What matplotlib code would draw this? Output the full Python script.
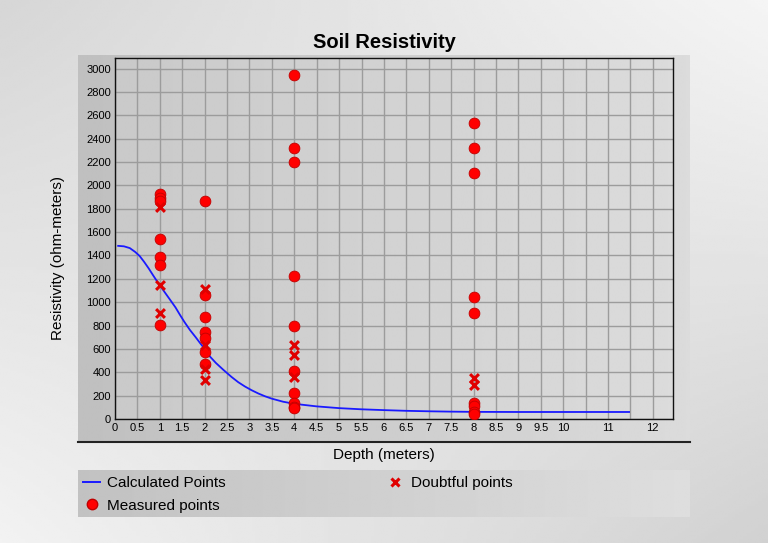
import numpy as np
import matplotlib
matplotlib.use('Agg')
import matplotlib.pyplot as plt
from matplotlib.lines import Line2D

plt.rcParams['font.family'] = ['Liberation Sans', 'DejaVu Sans']

# 计算曲线 (Calculated Points)
calc_depth = [0.07, 0.2, 0.33, 0.45, 0.55, 0.65, 0.75, 0.85, 0.97, 1.1,
              1.23, 1.35, 1.45, 1.55, 1.67, 1.8, 1.9, 2.0, 2.12, 2.25,
              2.42, 2.6, 2.75, 2.9, 3.05, 3.2, 3.35, 3.5, 3.75, 4.0,
              4.5, 5.0, 5.5, 6.0, 6.5, 7.0, 7.5, 8.0, 9.0, 10.0, 11.47]
calc_res = [1482, 1478, 1463, 1430, 1395, 1345, 1290, 1230, 1160, 1090,
            1020, 955, 891, 830, 763, 700, 649, 600, 534, 480,
            420, 360, 315, 278, 246, 218, 194, 174, 148, 130,
            108, 93, 83, 76, 70, 66, 63, 61, 60, 60, 60]

# 实测点 (Measured points)
meas_depth = [1] * 7 + [2] * 7 + [4] * 10 + [8] * 9
meas_res = [1930, 1895, 1865, 1540, 1390, 1320, 805,
            1870, 1060, 875, 745, 690, 570, 470,
            2945, 2320, 2200, 1225, 800, 415, 225, 140, 105, 90,
            2530, 2320, 2105, 1045, 905, 135, 115, 60, 40]

# 可疑点 (Doubtful points)
doubt_depth = [1] * 3 + [2] * 4 + [4] * 3 + [8] * 2
doubt_res = [1815, 1150, 905,
             1115, 630, 425, 330,
             630, 550, 360,
             355, 290]

x_ticks = [i * 0.5 for i in range(25)]
x_labels = ['0', '0.5', '1', '1.5', '2', '2.5', '3', '3.5', '4', '4.5', '5',
            '5.5', '6', '6.5', '7', '7.5', '8', '8.5', '9', '9.5', '10',
            '', '11', '', '12']
y_ticks = list(range(0, 3001, 200))

W, H = 768, 543
fig = plt.figure(figsize=(W / 100, H / 100), dpi=100)


def px_rect(x0, y0, x1, y1):
    return [x0 / W, 1 - y1 / H, (x1 - x0) / W, (y1 - y0) / H]


def gradient_axes(rect, left, right, z):
    a = fig.add_axes(rect, zorder=z)
    g = np.linspace(left, right, 256)[None, :]
    a.imshow(g, cmap='gray', vmin=0, vmax=1, aspect='auto',
             extent=[0, 1, 0, 1], interpolation='bilinear')
    a.set_axis_off()
    return a


# 背景渐变
bg = fig.add_axes([0, 0, 1, 1], zorder=-10)
u = np.linspace(0, 1, 200)
v = np.linspace(0, 1, 200)
U, V = np.meshgrid(u, v)
tl, tr, bl, br = 0.84, 0.96, 0.95, 0.82
img = tl * (1 - U) * (1 - V) + tr * U * (1 - V) + bl * (1 - U) * V + br * U * V
bg.imshow(img, cmap='gray', vmin=0, vmax=1, aspect='auto',
          extent=[0, 1, 0, 1], interpolation='bilinear')
bg.set_axis_off()

# 图表面板
panel = gradient_axes(px_rect(78, 55, 690, 442), 0.75, 0.86, -5)
panel.plot([0, 1], [0, 0], color='#222222', lw=1.5, transform=panel.transAxes,
           clip_on=False)

# 图例面板
legax = gradient_axes(px_rect(78, 470, 690, 517), 0.76, 0.87, -5)

ax = fig.add_axes(px_rect(115, 58, 673, 419), zorder=1)
ax.patch.set_alpha(0)
ax_bg = gradient_axes(px_rect(115, 58, 673, 419), 0.79, 0.86, 0)

ax.plot(calc_depth, calc_res, color='#1a1aff', lw=1.3, zorder=3)
ax.scatter(meas_depth, meas_res, s=60, color='#ff0000', edgecolors='#c00000',
           linewidths=0.6, zorder=4)
ax.scatter(doubt_depth, doubt_res, s=40, marker='x', color='#e00000',
           linewidths=2.2, zorder=5)

ax.set_xlim(0, 12.45)
ax.set_ylim(0, 3090)
ax.set_xticks(x_ticks)
ax.set_xticklabels(x_labels)
ax.set_yticks(y_ticks)
ax.tick_params(length=0, labelsize=8, pad=3)
ax.grid(True, color='#9c9c9c', lw=1)
ax.set_axisbelow(True)
for s in ax.spines.values():
    s.set_color('#111111')
    s.set_linewidth(1.0)

fig.text(384 / W, 1 - 42 / H, 'Soil Resistivity', ha='center', va='center',
         fontsize=14.5, fontweight='bold')
fig.text(58 / W, 1 - 258 / H, 'Resistivity (ohm-meters)', ha='center',
         va='center', rotation=90, fontsize=11)
fig.text(384 / W, 1 - 455 / H, 'Depth (meters)', ha='center', va='center',
         fontsize=11)

handles = [
    Line2D([], [], color='#1a1aff', lw=1.4),
    Line2D([], [], ls='', marker='o', markersize=7.5, color='#ff0000',
           markeredgecolor='#c00000'),
    Line2D([], [], ls='', marker='x', markersize=6, color='#e00000',
           markeredgewidth=2.2),
]
labels = ['Calculated Points', 'Measured points', 'Doubtful points']
leg = legax.legend(handles, labels, ncol=2, loc='upper left',
                   bbox_to_anchor=(-0.002, 1.0), frameon=False, fontsize=11,
                   handlelength=1.15, handletextpad=0.45, columnspacing=10.5,
                   labelspacing=0.55, borderaxespad=0.0)

fig.savefig('out.png', dpi=100)
